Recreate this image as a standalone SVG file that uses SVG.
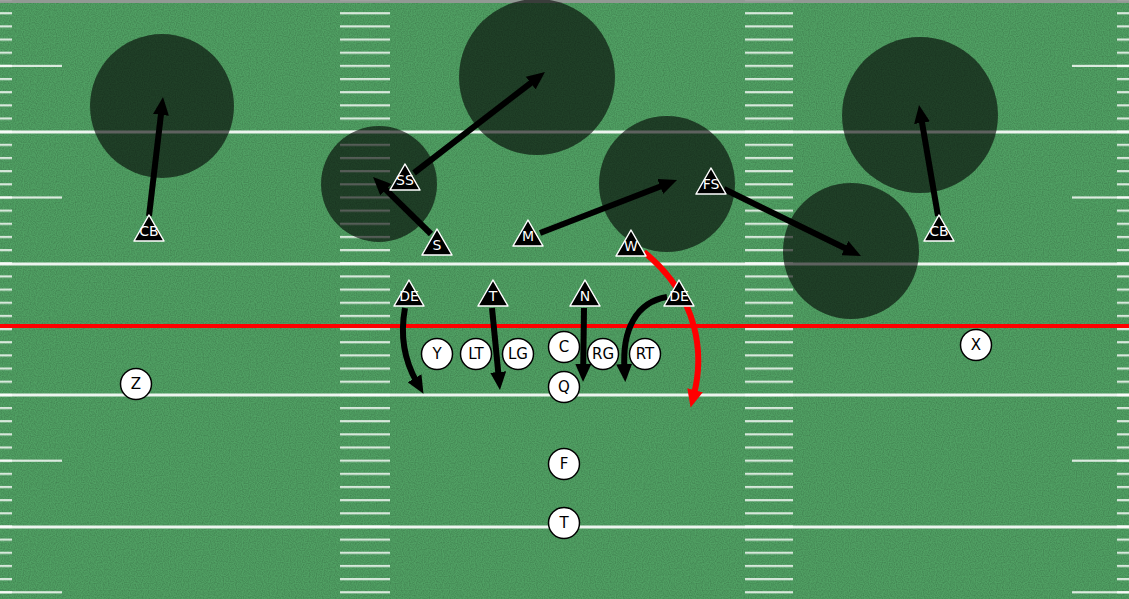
<svg xmlns="http://www.w3.org/2000/svg" width="1129" height="599" viewBox="0 0 1129 599">
<defs>
<pattern id="hash" patternUnits="userSpaceOnUse" x="0" y="-1" width="1129" height="13.16">
<rect x="0" y="0" width="12" height="2.2" fill="#fff"/>
<rect x="340" y="0" width="50" height="2.2" fill="#fff"/>
<rect x="745" y="0" width="48" height="2.2" fill="#fff"/>
<rect x="1117" y="0" width="12" height="2.2" fill="#fff"/>
</pattern>
<filter id="noise" x="0" y="0" width="100%" height="100%">
<feTurbulence type="fractalNoise" baseFrequency="0.85" numOctaves="1" seed="3"/>
<feColorMatrix values="0 0 0 0 0  0 0 0 0 0  0 0 0 0 0  0.35 0 0 0 -0.12"/>
</filter>
<marker id="ah" markerUnits="userSpaceOnUse" markerWidth="18" markerHeight="16" refX="5" refY="8" orient="auto">
<path d="M0,0 L18,8 L0,16 z" fill="#000"/>
</marker>
<marker id="ahr" markerUnits="userSpaceOnUse" markerWidth="18" markerHeight="16" refX="5" refY="8" orient="auto">
<path d="M0,0 L18,8 L0,16 z" fill="#f00"/>
</marker>
<style>
.yard{stroke:#fff;stroke-width:3;opacity:0.9}
.long{fill:#fff;opacity:0.8}
.zone{fill:#000;opacity:0.6}
.arr{fill:none;stroke:#000;stroke-width:6;marker-end:url(#ah)}
.arr-red{fill:none;stroke:#f00;stroke-width:6;marker-end:url(#ahr)}
.def polygon{fill:#000;stroke:#fff;stroke-width:1.5;stroke-linejoin:round}
.def text{fill:#fff;font-family:"DejaVu Sans",sans-serif;font-size:14px;text-anchor:middle}
.off circle{fill:#fff;stroke:#000;stroke-width:1.5}
.off text{fill:#000;font-family:"DejaVu Sans",sans-serif;font-size:15px;text-anchor:middle;dominant-baseline:central}
</style>
</defs>
<g id="field">
<rect x="0" y="0" width="1129" height="599" fill="#50a063"/>
<rect x="0" y="0" width="1129" height="599" filter="url(#noise)"/>
<rect x="0" y="0" width="1129" height="599" fill="url(#hash)" opacity="0.78"/>
<line class="yard" x1="0" y1="1.5" x2="1129" y2="1.5" style="stroke:#9a9a9a"/>
<line class="yard" x1="0" y1="132" x2="1129" y2="132"/>
<line class="yard" x1="0" y1="264" x2="1129" y2="264"/>
<line class="yard" x1="0" y1="395" x2="1129" y2="395"/>
<line class="yard" x1="0" y1="527" x2="1129" y2="527"/>
<rect class="long" x="0" y="64.8" width="62" height="2.2"/>
<rect class="long" x="0" y="196.4" width="62" height="2.2"/>
<rect class="long" x="0" y="459.6" width="62" height="2.2"/>
<rect class="long" x="0" y="591.2" width="62" height="2.2"/>
<rect class="long" x="1072" y="64.8" width="57" height="2.2"/>
<rect class="long" x="1072" y="196.4" width="57" height="2.2"/>
<rect class="long" x="1072" y="459.6" width="57" height="2.2"/>
<rect class="long" x="1072" y="591.2" width="57" height="2.2"/>
</g>
<g id="zones">
<circle class="zone" cx="162" cy="106" r="72"/>
<circle class="zone" cx="537" cy="77" r="78"/>
<circle class="zone" cx="379" cy="184" r="58"/>
<circle class="zone" cx="667" cy="184" r="68"/>
<circle class="zone" cx="920" cy="115" r="78"/>
<circle class="zone" cx="851" cy="251" r="68"/>
</g>
<line id="line-of-scrimmage" x1="0" y1="326" x2="1129" y2="326" stroke="#f00" stroke-width="4"/>
<g id="connectors">
<path class="arr" d="M149,216 L161.5,109.9"/>
<path class="arr" d="M414,173 L534.7,80"/>
<path class="arr" d="M431,234 L382.3,186.1"/>
<path class="arr" d="M540,233 L664.9,184.7"/>
<path class="arr" d="M724,189 L849.3,250.3"/>
<path class="arr" d="M938,216 L921.2,117.8"/>
<path class="arr" d="M492,308 L498.7,377"/>
<path class="arr" d="M584,308 L583.2,369"/>
<path class="arr" d="M405,308 C400,335 404,360 417,382.6"/>
<path class="arr" d="M667,297 C636,302 622,330 624.5,369"/>
<path class="arr-red" d="M644,252 C700,298 704,355 693.8,395"/>
</g>
<g id="defense" class="def">
<g id="d-cb-left"><polygon points="149,215 134,241 164,241"/><text x="149" y="236">CB</text></g>
<g id="d-ss"><polygon points="405,164 390,190 420,190"/><text x="405" y="185">SS</text></g>
<g id="d-s"><polygon points="437,229 422,255 452,255"/><text x="437" y="250">S</text></g>
<g id="d-m"><polygon points="528,220 513,246 543,246"/><text x="528" y="241">M</text></g>
<g id="d-w"><polygon points="631,230 616,256 646,256"/><text x="631" y="251">W</text></g>
<g id="d-fs"><polygon points="711,168 696,194 726,194"/><text x="711" y="189">FS</text></g>
<g id="d-cb-right"><polygon points="939,215 924,241 954,241"/><text x="939" y="236">CB</text></g>
<g id="d-de-left"><polygon points="409,280 394,306 424,306"/><text x="409" y="301">DE</text></g>
<g id="d-t"><polygon points="493,280 478,306 508,306"/><text x="493" y="301">T</text></g>
<g id="d-n"><polygon points="585,280 570,306 600,306"/><text x="585" y="301">N</text></g>
<g id="d-de-right"><polygon points="679,280 664,306 694,306"/><text x="679" y="301">DE</text></g>
</g>
<g id="offense" class="off">
<g id="o-y"><circle cx="437" cy="354" r="15.5"/><text x="437" y="354">Y</text></g>
<g id="o-lt"><circle cx="476" cy="354" r="15.5"/><text x="476" y="354">LT</text></g>
<g id="o-lg"><circle cx="518" cy="354" r="15.5"/><text x="518" y="354">LG</text></g>
<g id="o-c"><circle cx="564" cy="347" r="15.5"/><text x="564" y="347">C</text></g>
<g id="o-rg"><circle cx="603" cy="354" r="15.5"/><text x="603" y="354">RG</text></g>
<g id="o-rt"><circle cx="645" cy="354" r="15.5"/><text x="645" y="354">RT</text></g>
<g id="o-q"><circle cx="564" cy="387" r="15.5"/><text x="564" y="387">Q</text></g>
<g id="o-f"><circle cx="564" cy="464" r="15.5"/><text x="564" y="464">F</text></g>
<g id="o-t"><circle cx="564" cy="523" r="15.5"/><text x="564" y="523">T</text></g>
<g id="o-z"><circle cx="136" cy="384" r="15.5"/><text x="136" y="384">Z</text></g>
<g id="o-x"><circle cx="976" cy="345" r="15.5"/><text x="976" y="345">X</text></g>
</g>
</svg>
